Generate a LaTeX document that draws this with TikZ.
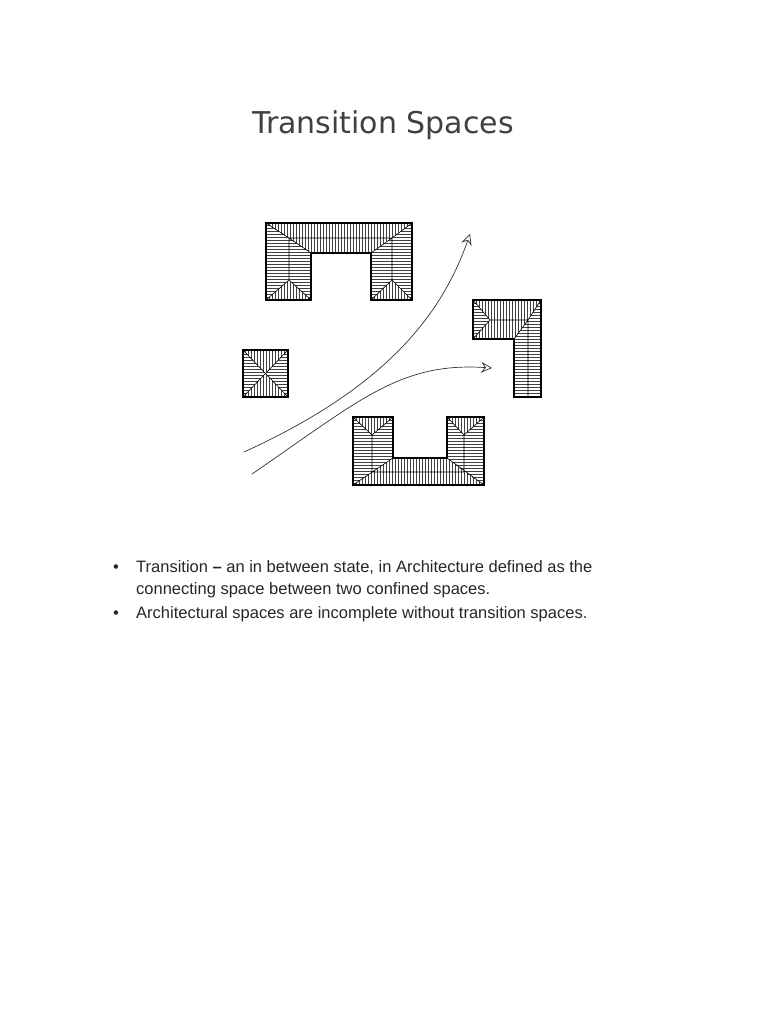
\documentclass[tikz,border=0pt]{standalone}
\usepackage{fontspec}
\setmainfont{Liberation Sans}
\newfontfamily\titlefont{DejaVu Sans}
\usetikzlibrary{arrows.meta}
\tikzset{hatch/.style={line width=0.45pt,black!75},
 bldg/.style={line width=2.6pt,line join=miter},
 ridge/.style={line width=0.6pt},
 walk/.style={line width=0.7pt,black!80,-{Stealth[open,length=11pt,width=11pt,inset=4pt]}},
 txt/.style={anchor=base west,inner sep=0pt,font=\fontsize{16.5}{19}\selectfont,text=black!85}}
\newcommand\hatchV[1]{\begin{scope}\clip #1 -- cycle; \foreach \x in {230,233,...,560} \draw[hatch] (\x,200)--(\x,500);\end{scope}}
\newcommand\hatchH[1]{\begin{scope}\clip #1 -- cycle; \foreach \y in {210,213,...,500} \draw[hatch] (230,\y)--(560,\y);\end{scope}}
\begin{document}
\begin{tikzpicture}[x=1pt,y=-1pt]
\useasboundingbox (0,0) rectangle (768,1024);
\node[font=\titlefont\fontsize{30}{34}\selectfont,text=black!75] (title) at (383,125) {Transition Spaces};
% top U building
\hatchV{(266,223)--(412,223)--(371,253)--(311,253)}
\hatchH{(266,223)--(289,238)--(289,280)--(266,300)}
\hatchH{(311,253)--(289,238)--(289,280)--(311,300)}
\hatchV{(266,300)--(289,280)--(311,300)}
\hatchH{(412,223)--(392,238)--(392,280)--(412,300)}
\hatchH{(371,253)--(392,238)--(392,280)--(371,300)}
\hatchV{(371,300)--(392,280)--(412,300)}
\draw[ridge] (266,223)--(289,238)--(392,238)--(412,223) (289,238)--(311,253) (392,238)--(371,253)
 (289,238)--(289,280) (266,300)--(289,280)--(311,300) (392,238)--(392,280) (371,300)--(392,280)--(412,300);
\draw[bldg] (266,223)--(412,223)--(412,300)--(371,300)--(371,253)--(311,253)--(311,300)--(266,300)--cycle;
% square
\hatchV{(243,350)--(288,350)--(265.5,373.5)}
\hatchV{(243,397)--(288,397)--(265.5,373.5)}
\hatchH{(243,350)--(243,397)--(265.5,373.5)}
\hatchH{(288,350)--(288,397)--(265.5,373.5)}
\draw[ridge] (243,350)--(288,397) (288,350)--(243,397);
\draw[bldg] (243,350) rectangle (288,397);
% right L
\hatchH{(473,300)--(490,320)--(473,339)}
\hatchV{(473,300)--(541,300)--(528,320)--(490,320)}
\hatchV{(490,320)--(528,320)--(514,339)--(473,339)}
\hatchH{(514,339)--(528,320)--(541,300)--(541,397)--(514,397)}
\draw[ridge] (473,300)--(490,320)--(473,339) (490,320)--(528,320)--(528,397) (541,300)--(528,320)--(514,339);
\draw[bldg] (473,300)--(541,300)--(541,397)--(514,397)--(514,339)--(473,339)--cycle;
% bottom U
\hatchV{(353,417)--(372,435)--(393,417)}
\hatchH{(353,417)--(372,435)--(372,472)--(353,485)}
\hatchH{(393,417)--(372,435)--(372,472)--(393,458)}
\hatchV{(353,485)--(393,458)--(447,458)--(484,485)}
\hatchV{(447,417)--(464,435)--(484,417)}
\hatchH{(484,417)--(464,435)--(464,472)--(484,485)}
\hatchH{(447,417)--(464,435)--(464,472)--(447,458)}
\draw[ridge] (353,417)--(372,435)--(393,417) (372,435)--(372,472)--(464,472)--(464,435) (447,417)--(464,435)--(484,417)
 (353,485)--(393,458) (484,485)--(447,458);
\draw[bldg] (353,417)--(393,417)--(393,458)--(447,458)--(447,417)--(484,417)--(484,485)--(353,485)--cycle;
% paths
\coordinate (s1) at (244,452); \coordinate (e1) at (470,234);
\coordinate (s2) at (252,474); \coordinate (e2) at (492,368);
\draw[walk] (s1) .. controls (380,390) and (440,320) .. (e1);
\draw[walk] (s2) .. controls (360,400) and (400,362) .. (e2);
% text
\node[txt] (b1) at (113,572) {\textbullet};
\node[txt] (l1) at (136,572) {Transition \textbf{–} an in between state, in Architecture defined as the};
\node[txt] (l2) at (136,594) {connecting space between two confined spaces.};
\node[txt] (b2) at (113,618) {\textbullet};
\node[txt] (l3) at (136,618) {Architectural spaces are incomplete without transition spaces.};
\end{tikzpicture}
\end{document}
